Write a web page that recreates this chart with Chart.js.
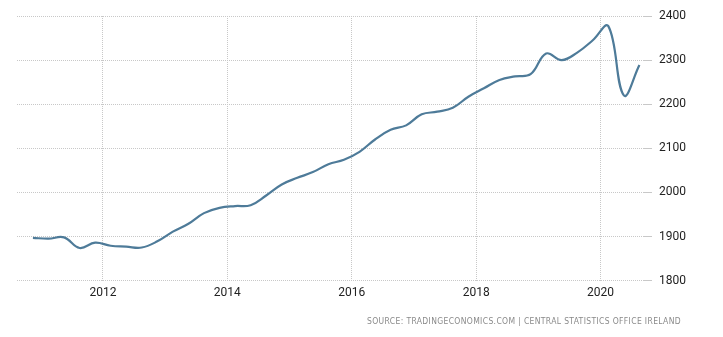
<!DOCTYPE html>
<html>
<head>
  <meta charset="UTF-8">
  <title>Ireland Average Weekly Earnings</title>
  <style>
    body {
      margin: 0;
      background: #ffffff;
    }
  </style>
</head>
<body>
  <canvas id="earningsChart" width="723" height="337"></canvas>

  <script src="https://cdn.jsdelivr.net/npm/chart.js"></script>
  <script>
    // quarterly series, 2010 Q4 .. 2020 Q3
    const quarters = [
      "2010Q4",
      "2011Q1", "2011Q2", "2011Q3", "2011Q4",
      "2012Q1", "2012Q2", "2012Q3", "2012Q4",
      "2013Q1", "2013Q2", "2013Q3", "2013Q4",
      "2014Q1", "2014Q2", "2014Q3", "2014Q4",
      "2015Q1", "2015Q2", "2015Q3", "2015Q4",
      "2016Q1", "2016Q2", "2016Q3", "2016Q4",
      "2017Q1", "2017Q2", "2017Q3", "2017Q4",
      "2018Q1", "2018Q2", "2018Q3", "2018Q4",
      "2019Q1", "2019Q2", "2019Q3", "2019Q4",
      "2020Q1", "2020Q2", "2020Q3",
    ];
    const earnings = [
      1897,
      1895, 1898, 1874, 1886,
      1879, 1877, 1875, 1889,
      1911, 1929, 1953, 1965,
      1969, 1971, 1993, 2018,
      2033, 2046, 2064, 2074,
      2092, 2120, 2142, 2152,
      2177, 2183, 2192, 2217,
      2236, 2255, 2263, 2268,
      2315, 2300, 2317, 2345,
      2377, 2220, 2289,
    ];
    const yearTicks = [2012, 2014, 2016, 2018, 2020];
    const yearLabels = ["2012", "2014", "2016", "2018", "2020"];
    const valueTicks = [1800, 1900, 2000, 2100, 2200, 2300, 2400];
    const sourceText = "SOURCE: TRADINGECONOMICS.COM | CENTRAL STATISTICS OFFICE IRELAND";

    // quarter label -> decimal year at the middle of the quarter
    function quarterToYear(q) {
      const year = parseInt(q.slice(0, 4), 10);
      const n = parseInt(q.slice(5), 10);
      return year + (n - 1) / 4 + 0.125;
    }

    const points = quarters.map((q, i) => ({ x: quarterToYear(q), y: earnings[i] }));

    const gridColor = "#c8c8c8";
    const labelFont = { family: "'Roboto', sans-serif", size: 12 };

    const sourcePlugin = {
      id: "sourceNote",
      afterDraw(chart) {
        const ctx = chart.ctx;
        ctx.save();
        ctx.font = "8.5px 'DejaVu Sans Condensed', 'DejaVu Sans', sans-serif";
        ctx.fillStyle = "#8a8a8a";
        ctx.textAlign = "right";
        ctx.textBaseline = "middle";
        if ("letterSpacing" in ctx) ctx.letterSpacing = "0.35px";
        ctx.fillText(sourceText, 681, 322);
        ctx.restore();
      },
    };

    const ctx = document.getElementById("earningsChart").getContext("2d");
    new Chart(ctx, {
      type: "line",
      data: {
        datasets: [
          {
            label: "Average Weekly Earnings",
            data: points,
            borderColor: "#4e7b99",
            borderWidth: 2.2,
            pointRadius: 0,
            tension: 0.4,
            fill: false,
          },
        ],
      },
      options: {
        responsive: false,
        animation: false,
        layout: {
          padding: { left: 17, right: 30, top: 16, bottom: 32 },
        },
        plugins: {
          legend: { display: false },
          tooltip: { enabled: false },
        },
        scales: {
          x: {
            type: "linear",
            min: 2010.619,
            max: 2020.699,
            afterBuildTicks(axis) {
              axis.ticks = yearTicks.map((v) => ({ value: v }));
            },
            ticks: {
              color: "#222222",
              font: labelFont,
              padding: 5,
              maxRotation: 0,
              callback: (value) => yearLabels[yearTicks.indexOf(value)],
            },
            grid: {
              color: gridColor,
              drawTicks: false,
            },
            border: { display: false, dash: [1, 1] },
          },
          y: {
            position: "right",
            min: 1800,
            max: 2400,
            afterBuildTicks(axis) {
              axis.ticks = valueTicks.map((v) => ({ value: v }));
            },
            ticks: {
              color: "#222222",
              font: labelFont,
              padding: 7,
              callback: (value) => String(value),
            },
            grid: {
              color: gridColor,
              tickLength: 8,
            },
            border: { display: false, dash: [1, 1] },
          },
        },
      },
      plugins: [sourcePlugin],
    });
  </script>
</body>
</html>
